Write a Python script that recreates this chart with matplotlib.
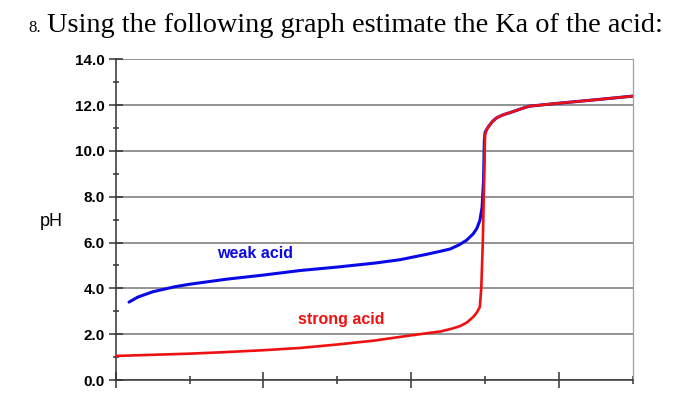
import numpy as np
import matplotlib
matplotlib.use("Agg")
import matplotlib.pyplot as plt
from matplotlib.ticker import MultipleLocator

# Datos (mL de base anadida, pH)
weak_ml = [1.8, 3, 5, 8, 10, 15, 20, 25, 30, 35, 38.5, 42, 44, 45.3, 46.5, 47.5,
           48.4, 48.9, 49.3, 49.6, 49.8, 49.9, 50.0, 50.2, 50.45, 51, 51.6, 52.5,
           53.4, 55, 56, 60, 65.6, 70]
weak_ph = [3.40, 3.62, 3.85, 4.07, 4.18, 4.40, 4.58, 4.78, 4.93, 5.10, 5.25, 5.48,
           5.62, 5.72, 5.90, 6.10, 6.38, 6.62, 6.96, 7.53, 8.7, 10.4, 10.8, 10.92,
           11.05, 11.28, 11.45, 11.58, 11.67, 11.85, 11.95, 12.08, 12.25, 12.39]

strong_ml = [0, 5, 10, 15, 20, 25, 30, 35, 40, 44, 45.5, 46.6, 47.5, 48.4, 48.9,
             49.3, 49.5, 49.7, 49.9, 50.0, 50.2, 50.45, 51, 51.6, 52.5, 53.4, 55,
             56, 60, 65.6, 70]
strong_ph = [1.05, 1.10, 1.15, 1.22, 1.30, 1.40, 1.55, 1.72, 1.95, 2.12, 2.24, 2.35,
             2.50, 2.75, 2.95, 3.19, 4.06, 6.0, 9.0, 10.7, 10.92, 11.05, 11.28,
             11.45, 11.58, 11.67, 11.85, 11.95, 12.08, 12.25, 12.39]

y_ticks = np.arange(0, 15, 2)
y_labels = [f"{v:.1f}" for v in y_ticks]

BLUE = "#0a0ae6"
RED = "#ee1111"

fig = plt.figure(figsize=(7, 3.98), dpi=100)
ax = fig.add_axes([0.1653, 0.0452, 0.7386, 0.806])

ax.plot(weak_ml, weak_ph, color=BLUE, lw=2.2, solid_capstyle="round", zorder=3)
ax.plot(strong_ml, strong_ph, color=RED, lw=1.9, zorder=4)

ax.set_xlim(0, 70)
ax.set_ylim(0, 14)

# Grid horizontal gris
ax.set_yticks(y_ticks)
ax.set_yticklabels(y_labels, fontsize=11, fontweight="bold", family="Liberation Sans")
ax.yaxis.set_minor_locator(MultipleLocator(1))
ax.grid(axis="y", which="major", color="#808080", lw=1.2, zorder=1)
ax.set_axisbelow(True)

ax.xaxis.set_major_locator(MultipleLocator(20))
ax.xaxis.set_minor_locator(MultipleLocator(10))
ax.set_xticklabels([])

ax.tick_params(axis="y", which="major", direction="inout", length=10, width=1.1,
               color="#333333", pad=3)
ax.tick_params(axis="y", which="minor", direction="inout", length=5, width=1.1,
               color="#333333")
ax.tick_params(axis="x", which="major", direction="inout", length=12, width=1.1,
               color="#333333")
ax.tick_params(axis="x", which="minor", direction="inout", length=6, width=1.1,
               color="#333333")

ax.spines["top"].set_visible(False)
ax.spines["left"].set_color("#333333")
ax.spines["left"].set_linewidth(1.1)
ax.spines["bottom"].set_color("#333333")
ax.spines["bottom"].set_linewidth(1.1)
ax.spines["right"].set_color("#a0a0a0")
ax.spines["right"].set_linewidth(0.9)

# Etiquetas de las curvas
ax.text(18.9, 5.52, "weak acid", color=BLUE, fontsize=11.5, fontweight="bold",
        family="Liberation Sans", ha="center", va="center")
ax.text(30.6, 2.63, "strong acid", color=RED, fontsize=11.5, fontweight="bold",
        family="Liberation Sans", ha="center", va="center")

fig.text(51 / 700, 1 - 221 / 398, "pH", fontsize=13, family="Liberation Sans",
         ha="center", va="center")

# Titulo
fig.text(28 / 700, 1 - 32 / 398, "8.", fontsize=12, family="Liberation Serif",
         ha="left", va="baseline")
fig.text(47 / 700, 1 - 32 / 398, "Using the following graph estimate the Ka of the acid:",
         fontsize=20.3, family="Liberation Serif", ha="left", va="baseline")

fig.savefig("out.png", dpi=100)
